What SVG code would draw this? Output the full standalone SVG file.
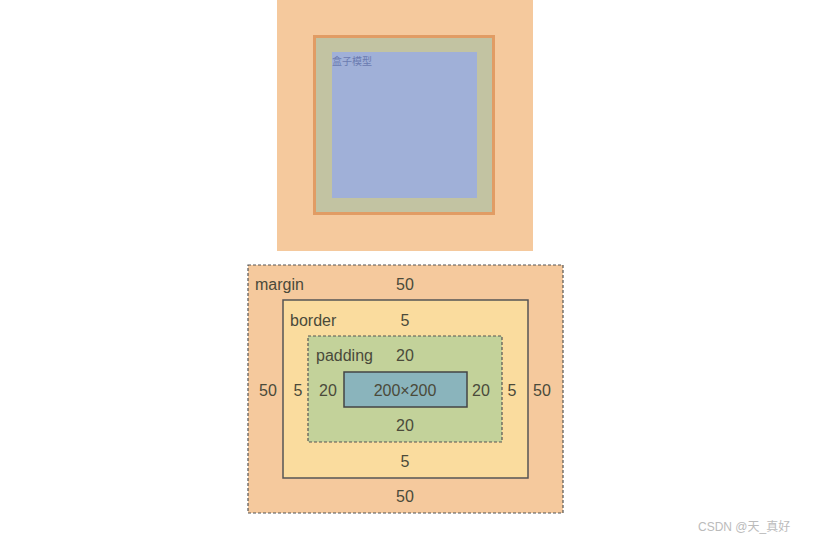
<svg xmlns="http://www.w3.org/2000/svg" width="818" height="541" viewBox="0 0 818 541">
<style>
.t{font-family:"Liberation Sans","Noto Sans",sans-serif;font-size:16px;fill:#4a4a3a}
.c{text-anchor:middle}
.d{stroke:#555;stroke-width:1.2;stroke-dasharray:3 2}
</style>
<rect width="818" height="541" fill="#fff"/>
<g id="top">
<rect x="277" y="0" width="256" height="251" fill="#f5c99d"/>
<rect x="314.5" y="36.5" width="179" height="177" fill="#c2c3a2" stroke="#e19c64" stroke-width="3"/>
<rect x="332" y="52" width="145" height="146" fill="#a0b0d8"/>
<text x="332" y="65" style="font-family:'Noto Sans CJK SC',sans-serif;font-size:10px;fill:#6b7bb0">盒子模型</text>
</g>
<g id="margin">
<rect x="248" y="265" width="315" height="248" fill="#f5c99d" class="d"/>
<text class="t" x="255" y="290">margin</text>
<text class="t c" x="405" y="290">50</text>
<text class="t c" x="268" y="396">50</text>
<text class="t c" x="542" y="396">50</text>
<text class="t c" x="405" y="502">50</text>
</g>
<g id="border">
<rect x="283" y="300" width="245" height="178" fill="#fadc9e" stroke="#555" stroke-width="1.5"/>
<text class="t" x="290" y="326">border</text>
<text class="t c" x="405" y="326">5</text>
<text class="t c" x="298" y="396">5</text>
<text class="t c" x="512" y="396">5</text>
<text class="t c" x="405" y="467">5</text>
</g>
<g id="padding">
<rect x="308" y="336" width="194" height="106" fill="#c3d29a" class="d"/>
<text class="t" x="316" y="361">padding</text>
<text class="t c" x="405" y="361">20</text>
<text class="t c" x="328" y="396">20</text>
<text class="t c" x="481" y="396">20</text>
<text class="t c" x="405" y="431">20</text>
</g>
<g id="content">
<rect x="344" y="372" width="123" height="35" fill="#8ab4bc" stroke="#444" stroke-width="1.5"/>
<text class="t c" x="405" y="396">200×200</text>
</g>
<g id="connectors"/>
<text x="698" y="531" style="font-family:'Liberation Sans','Noto Sans CJK SC',sans-serif;font-size:12px;fill:#bbb">CSDN @天_真好</text>
</svg>
